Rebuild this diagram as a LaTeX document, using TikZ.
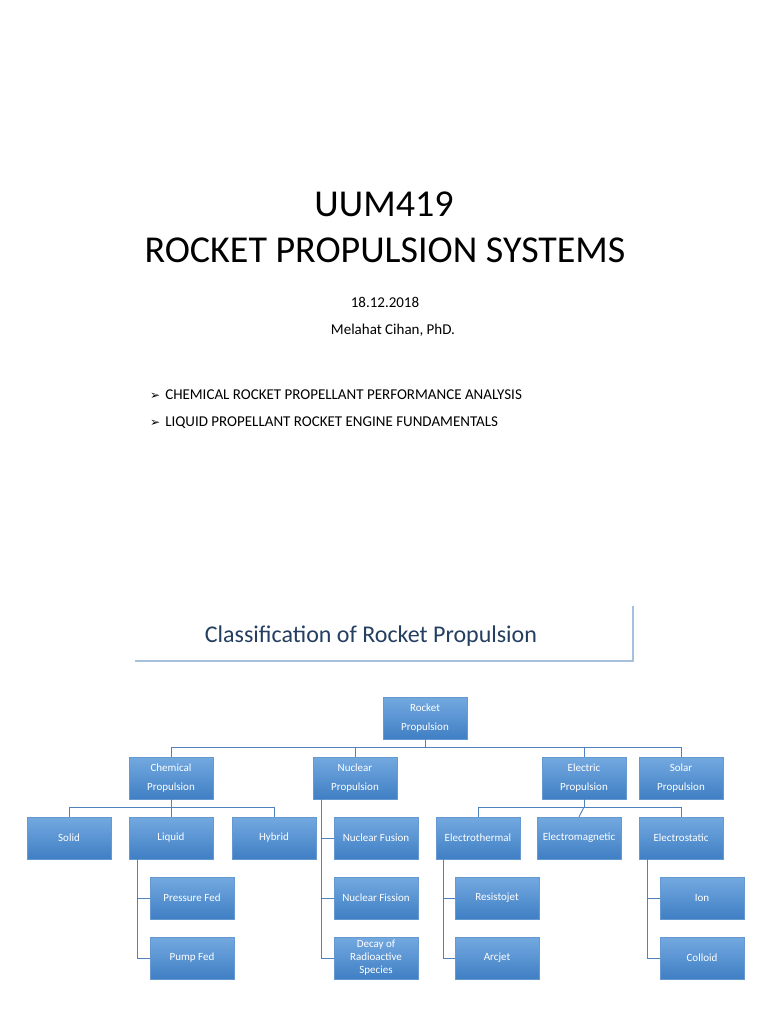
\documentclass[tikz,border=0pt]{standalone}
\usepackage{fontspec}
\setmainfont{Carlito}
\newfontfamily\symfont{DejaVu Sans}
\begin{document}
\begin{tikzpicture}[x=1pt,y=-1pt,
  bx/.style={rectangle,minimum width=84pt,minimum height=42pt,inner sep=1pt,align=center,
    top color=boxtop,bottom color=boxbot,draw=boxbot!80!white,line width=0.4pt,text=white,
    font=\fontsize{11}{19}\selectfont},
  ln/.style={draw=lncol,line width=0.9pt}]
\definecolor{boxtop}{HTML}{74A9E0}
\definecolor{boxbot}{HTML}{3F7FC4}
\definecolor{lncol}{HTML}{4F81BD}
\definecolor{ttl}{HTML}{243F60}
\definecolor{frm}{HTML}{A7C0DE}
\useasboundingbox (0,0) rectangle (768,1024);
\fill[white] (0,0) rectangle (768,1024);
\node[font=\fontsize{38}{40}\selectfont] (t1) at (384,204) {UUM419};
\node[font=\fontsize{38}{40}\selectfont] (t2) at (385,250) {ROCKET PROPULSION SYSTEMS};
\node[font=\fontsize{15}{18}\selectfont] (d) at (385,302) {18.12.2018};
\node[font=\fontsize{15}{18}\selectfont] (n) at (393,330) {Melahat Cihan, PhD.};
\node[anchor=west,font=\fontsize{15}{18}\selectfont,inner sep=0] (b1) at (150,395) {{\symfont\fontsize{12}{14}\selectfont ➢}\hspace{5pt}CHEMICAL ROCKET PROPELLANT PERFORMANCE ANALYSIS};
\node[anchor=west,font=\fontsize{15}{18}\selectfont,inner sep=0] (b2) at (150,423) {{\symfont\fontsize{12}{14}\selectfont ➢}\hspace{5pt}LIQUID PROPELLANT ROCKET ENGINE FUNDAMENTALS};
% title box
\draw[frm,line width=1.5pt] (135,661) -- (633,661) -- (633,606);
\node[text=ttl,font=\fontsize{24}{26}\selectfont] (ct) at (371,636) {Classification of Rocket Propulsion};
% boxes
\node[bx] (rp) at (425,718) {Rocket\\Propulsion};
\node[bx] (ch) at (171,778) {Chemical\\Propulsion};
\node[bx] (nu) at (355,778) {Nuclear\\Propulsion};
\node[bx] (el) at (584,778) {Electric\\Propulsion};
\node[bx] (so) at (681,778) {Solar\\Propulsion};
\node[bx] (sol) at (69,838) {Solid};
\node[bx] (liq) at (171,838) {Liquid};
\node[bx] (hy) at (274,838) {Hybrid};
\node[bx] (nf) at (376,838) {Nuclear Fusion};
\node[bx] (et) at (478,838) {Electrothermal};
\node[bx] (em) at (579,838) {Electromagnetic};
\node[bx] (es) at (681,838) {Electrostatic};
\node[bx] (pf) at (192,898) {Pressure Fed};
\node[bx] (nfi) at (376,898) {Nuclear Fission};
\node[bx] (rj) at (497,898) {Resistojet};
\node[bx] (ion) at (702,898) {Ion};
\node[bx] (pu) at (192,958) {Pump Fed};
\node[bx,font=\fontsize{11}{13}\selectfont] (dc) at (376,958) {Decay of\\Radioactive\\Species};
\node[bx] (aj) at (497,958) {Arcjet};
\node[bx] (col) at (702,958) {Colloid};
% connectors
\draw[ln] (rp.south) -- ++(0,8) coordinate (j1);
\draw[ln] (ch.north) |- (j1) -| (so.north);
\draw[ln] (nu.north) -- (nu.north |- j1);
\draw[ln] (el.north) -- (el.north |- j1);
\draw[ln] (ch.south) -- ++(0,8) coordinate (j2);
\draw[ln] (sol.north) |- (j2) -| (hy.north);
\draw[ln] (liq.north) -- (j2);
\draw[ln] (el.south) -- ++(0,8) coordinate (j3);
\draw[ln] (et.north) |- (j3) -| (es.north);
\draw[ln] (em.north) -- (j3);
\draw[ln] ([xshift=-34pt]nu.south) coordinate (nv) -- (nv |- dc.west) -- (dc.west);
\draw[ln] (nv |- nf.west) -- (nf.west);
\draw[ln] (nv |- nfi.west) -- (nfi.west);
\draw[ln] ([xshift=-34pt]liq.south) coordinate (lv) -- (lv |- pu.west) -- (pu.west);
\draw[ln] (lv |- pf.west) -- (pf.west);
\draw[ln] ([xshift=-35pt]et.south) coordinate (ev) -- (ev |- aj.west) -- (aj.west);
\draw[ln] (ev |- rj.west) -- (rj.west);
\draw[ln] ([xshift=-34pt]es.south) coordinate (sv) -- (sv |- col.west) -- (col.west);
\draw[ln] (sv |- ion.west) -- (ion.west);
\end{tikzpicture}
\end{document}
